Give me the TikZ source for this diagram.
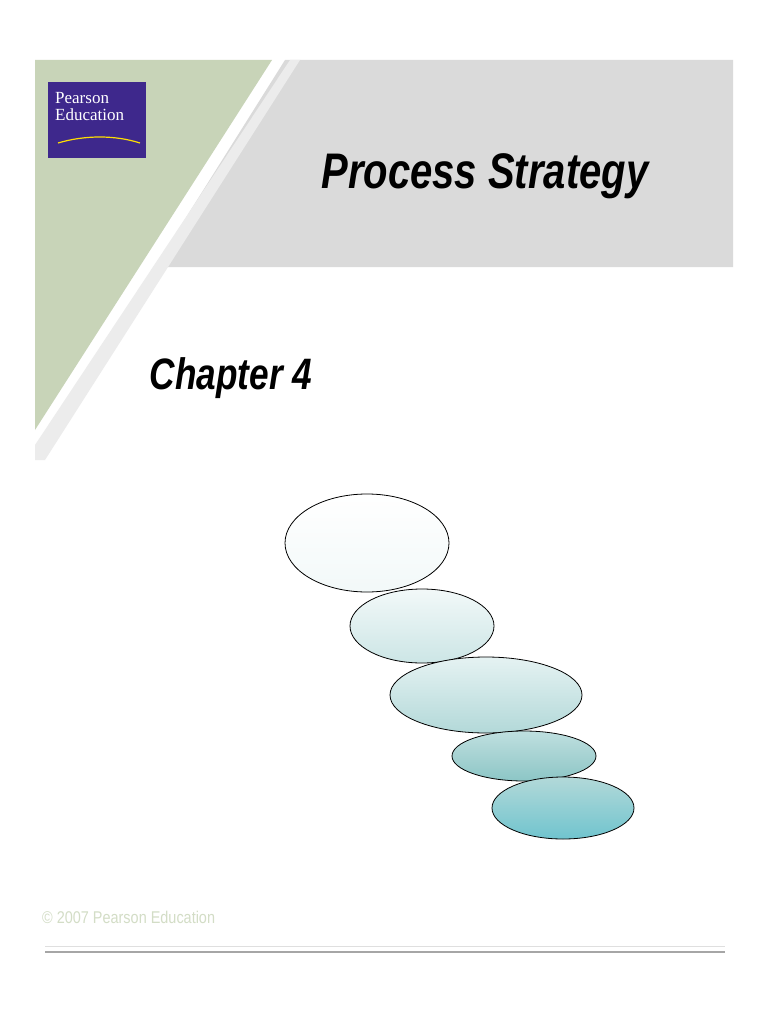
\documentclass[tikz,border=0pt]{standalone}
\usepackage{fontspec}
\setmainfont{Liberation Sans}
\newfontfamily\serifx{Liberation Serif}
\definecolor{sage}{RGB}{200,212,184}
\definecolor{hdr}{RGB}{218,218,218}
\definecolor{logo}{RGB}{62,40,140}
\definecolor{teal1}{RGB}{235,245,248}
\definecolor{teal5}{RGB}{112,196,206}
\tikzset{oval/.style={draw=black,line width=0.8pt,shape=ellipse}}
\usetikzlibrary{shapes.geometric}
\begin{document}
\begin{tikzpicture}[x=1pt,y=-1pt]
\useasboundingbox (0,0) rectangle (768,1024);
\fill[white] (0,0) rectangle (768,1024);
% header gray
\fill[hdr] (285,60) -- (733,60) -- (733,267) -- (155,267) -- cycle;
% green triangle
\fill[sage] (35,60) -- (272,60) -- (35,430) -- cycle;
% shadow strip
\fill[gray!15] (290,60) -- (300,60) -- (45,460) -- (35,460) -- (35,445) -- cycle;
% logo
\node[fill=logo,minimum width=98,minimum height=76,anchor=north west,inner sep=0] (logo) at (48,82) {};
\node[white,font=\serifx\fontsize{17}{17}\selectfont,align=left,anchor=north west,inner sep=0] (lt) at (55,92) {Pearson\\Education};
\draw[yellow!80!orange,line width=1.2pt] (58,143) .. controls (85,135) and (115,135) .. (140,143);
% title
\node[font=\bfseries\itshape\fontsize{50}{50}\selectfont,xscale=0.8] (title) at (485,176) {Process Strategy};
\node[font=\bfseries\itshape\fontsize{44}{44}\selectfont,xscale=0.8] (chap) at (231,378) {Chapter 4};
% ovals
\node[oval,minimum width=164,minimum height=98,top color=white,bottom color=teal!5!white] (e1) at (367,543) {};
\node[oval,minimum width=144,minimum height=74,top color=teal!5!white,bottom color=teal!20!white] (e2) at (422,626) {};
\node[oval,minimum width=192,minimum height=76,top color=teal!10!white,bottom color=teal!30!white] (e3) at (486,695) {};
\node[oval,minimum width=144,minimum height=50,top color=teal!25!white,bottom color=teal!45!white] (e4) at (524,756) {};
\node[oval,minimum width=142,minimum height=62,top color=teal!30!white,bottom color=teal5] (e5) at (563,808) {};
% footer
\node[anchor=west,text=sage!80!white,font=\fontsize{17}{17}\selectfont,xscale=0.85,inner sep=0] (foot) at (42,917) {\textcopyright{} 2007 Pearson Education};
\draw[gray!25,line width=1pt] (45,946) -- (725,946);
\draw[gray!70,line width=1.5pt] (45,952) -- (725,952);
\end{tikzpicture}
\end{document}
